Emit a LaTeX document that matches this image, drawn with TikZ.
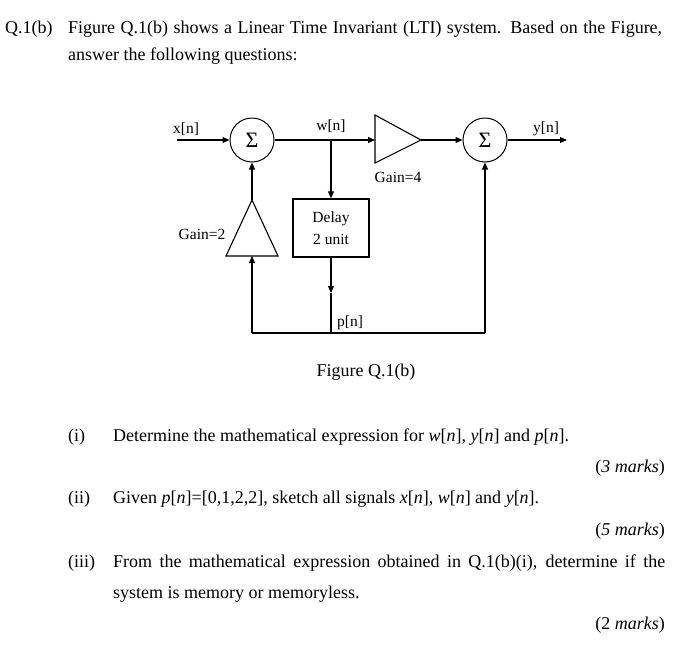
\documentclass[tikz,border=0pt]{standalone}
\usepackage{fontspec}
\setmainfont{Liberation Serif}
\usetikzlibrary{arrows.meta,shapes.geometric}
\begin{document}
\begin{tikzpicture}[x=1pt,y=-1pt,
 every node/.style={inner sep=0pt},
 txt/.style={anchor=base west,font=\fontsize{18}{21}\selectfont},
 lbl/.style={font=\fontsize{15.5}{18}\selectfont},
 sum/.style={circle,draw,line width=1pt,minimum size=44pt,font=\fontsize{22}{22}\selectfont},
 ln/.style={line width=1.1pt},
 ar/.style={line width=1.1pt,-{Triangle[length=7pt,width=6pt]}}]
\useasboundingbox (0,0) rectangle (691,659);
% text
\node[txt] (q) at (5,33) {Q.1(b)};
\node[txt] (l1) at (68,33) {\makebox[594pt][s]{Figure Q.1(b) shows a Linear Time Invariant (LTI) system. Based on the Figure,}};
\node[txt] (l2) at (68,60) {answer the following questions:};
\node[txt,anchor=base] (cap) at (366,376) {Figure Q.1(b)};
\node[txt] (i) at (68,441) {(i)};
\node[txt] (it) at (113,441) {Determine the mathematical expression for \textit{w}[\textit{n}], \textit{y}[\textit{n}] and \textit{p}[\textit{n}].};
\node[txt,anchor=base east] (m1) at (665,472) {(\textit{3 marks})};
\node[txt] (ii) at (68,503) {(ii)};
\node[txt] (iit) at (113,503) {Given \textit{p}[\textit{n}]=[0,1,2,2], sketch all signals \textit{x}[\textit{n}], \textit{w}[\textit{n}] and \textit{y}[\textit{n}].};
\node[txt,anchor=base east] (m2) at (665,535) {(\textit{5 marks})};
\node[txt] (iii) at (68,567) {(iii)};
\node[txt] (iiit) at (113,567) {\makebox[552pt][s]{From the mathematical expression obtained in Q.1(b)(i), determine if the}};
\node[txt] (iiit2) at (113,598) {system is memory or memoryless.};
\node[txt,anchor=base east] (m3) at (665,629) {(2 \textit{marks})};
% diagram
\node[sum] (s1) at (252,140) {Σ};
\node[sum] (s2) at (485,140) {Σ};
\draw[ln] (375,115) -- (375,163) -- (421,140) -- cycle;
\coordinate (g4in) at (375,140);
\coordinate (g4out) at (421,140);
\draw[ln] (252,200) -- (278,256) -- (226,256) -- cycle;
\coordinate (g2top) at (252,200);
\coordinate (g2bot) at (252,256);
\node[draw,line width=1.4pt,minimum width=76pt,minimum height=58pt,align=center,lbl] (d) at (331,228) {Delay\\[4pt]2 unit};
\coordinate (xin) at (177,140);
\coordinate (yout) at (567,140);
\coordinate (br) at (331,140);
\coordinate (p) at (331,333);
\coordinate (pl) at (252,333);
\coordinate (pr) at (485,333);
\coordinate (pa) at (331,293);
\draw[ar] (xin) -- (s1);
\draw[ln] (s1) -- (br);
\draw[ar] (br) -- (g4in);
\draw[ar] (br) -- (d.north);
\draw[ar] (g4out) -- (s2);
\draw[ar] (s2) -- (yout);
\draw[ar] (d.south) -- (pa);
\draw[ln] (pa) -- (p);
\draw[ln] (pl) -- (pr);
\draw[ar] (pl) -- (g2bot);
\draw[ar] (g2top) -- (s1);
\draw[ar] (pr) -- (s2);
\node[lbl] (lx) at (186,129) {x[n]};
\node[lbl] (lw) at (331,126) {w[n]};
\node[lbl] (ly) at (546,129) {y[n]};
\node[lbl] (l4) at (398,177) {Gain=4};
\node[lbl] (l2g) at (202,234) {Gain=2};
\node[lbl] (lp) at (350,323) {p[n]};
\end{tikzpicture}
\end{document}
